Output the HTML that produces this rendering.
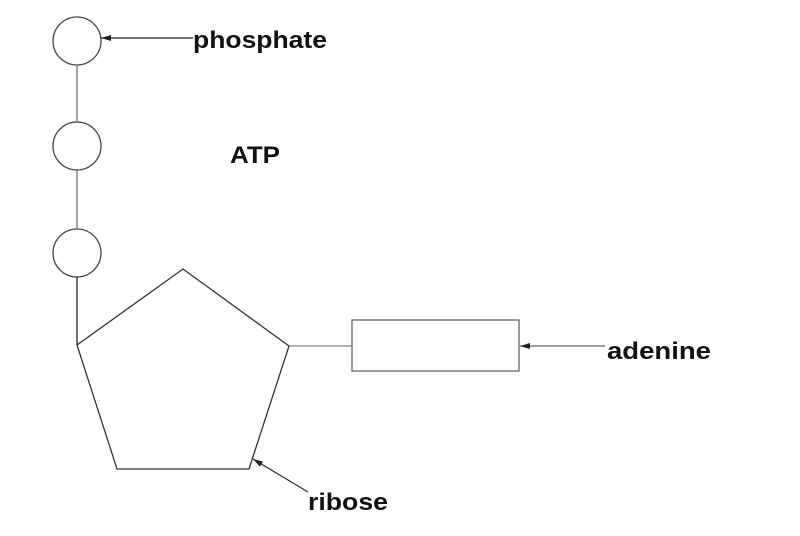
<!DOCTYPE html>
<html><head><meta charset="utf-8"><style>body{margin:0;background:#fff}svg{display:block}</style></head>
<body>
<svg width="800" height="536" viewBox="0 0 800 536" xmlns="http://www.w3.org/2000/svg">
<defs><marker id="a" markerWidth="10" markerHeight="8" refX="10" refY="4" orient="auto" markerUnits="userSpaceOnUse"><path d="M0,1 L10,4 L0,7z" fill="#222"/></marker></defs>
<g fill="none" stroke="#444" stroke-width="1.3">
<circle cx="77" cy="41" r="24"/>
<circle cx="77" cy="146" r="24"/>
<circle cx="77" cy="253" r="24"/>
<line x1="77" y1="65" x2="77" y2="122" stroke="#777"/>
<line x1="77" y1="170" x2="77" y2="229" stroke="#777"/>
<line x1="77" y1="277" x2="77" y2="345" stroke="#222"/>
<polygon points="183,269 289,346 249,469 117,469 77,345" stroke="#333"/>
<line x1="289" y1="346" x2="352" y2="346" stroke="#888"/>
<rect x="352" y="320" width="167" height="51" stroke="#666"/>
<line x1="193" y1="38" x2="101" y2="38" stroke="#222" marker-end="url(#a)"/>
<line x1="605" y1="346" x2="520" y2="346" stroke="#666" marker-end="url(#a)"/>
<line x1="308" y1="492" x2="253" y2="459" stroke="#333" marker-end="url(#a)"/>
</g>
<g font-family="Liberation Sans, sans-serif" font-weight="bold" font-size="24" fill="#111">
<text x="193" y="48" textLength="134" lengthAdjust="spacingAndGlyphs">phosphate</text>
<text x="230" y="163" textLength="50" lengthAdjust="spacingAndGlyphs">ATP</text>
<text x="607" y="359" textLength="104" lengthAdjust="spacingAndGlyphs">adenine</text>
<text x="308" y="510" textLength="80" lengthAdjust="spacingAndGlyphs">ribose</text>
</g>
</svg>
</body></html>
